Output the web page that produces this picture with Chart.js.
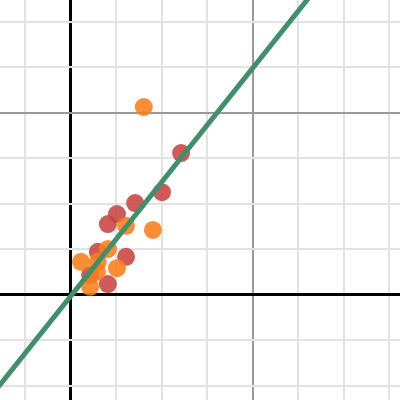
<!DOCTYPE html>
<html>
<head>
<meta charset="utf-8">
<script src="https://cdn.jsdelivr.net/npm/chart.js@4"></script>
<style>
html,body{margin:0;padding:0;background:#fff;}
#wrap{width:400px;height:400px;}
</style>
</head>
<body>
<div id="wrap"><canvas id="c" width="400" height="400"></canvas></div>
<script>
// Data (grid units: one minor cell = 1)
const orangeX = [1.60, 1.80, 1.21, 0.81, 0.22, 0.59, 1.01, 0.57, 0.42];
const orangeY = [4.13, 1.43, 1.52, 1.01, 0.73, 0.73, 0.59, 0.51, 0.18];
const redX = [2.42, 2.00, 1.41, 1.01, 0.81, 0.59, 1.21, 0.42, 0.81];
const redY = [3.12, 2.26, 2.02, 1.78, 1.56, 0.95, 0.84, 0.44, 0.24];
const fitX = [-1.70, 5.40];
const fitY = [-2.15, 6.75];

const xMin = -1.5604, xMax = 7.2308, yMin = -2.3077, yMax = 6.4835;

const pts = (xs, ys) => xs.map((x, i) => ({x, y: ys[i]}));

function gridColor(ctx) {
  const v = ctx.tick ? ctx.tick.value : null;
  if (v === 0) return '#000000';
  if (Math.abs(v % 4) < 1e-9) return '#9a9a9a';
  return '#e2e2e2';
}
function gridWidth(ctx) {
  const v = ctx.tick ? ctx.tick.value : null;
  if (v === 0) return 3;
  return 2;
}
function intTicks(scale) {
  const t = [];
  for (let v = Math.ceil(scale.min); v <= Math.floor(scale.max); v++) t.push({value: v});
  scale.ticks = t;
}

new Chart(document.getElementById('c'), {
  type: 'scatter',
  data: {
    datasets: [
      {
        type: 'line',
        data: pts(fitX, fitY),
        borderColor: '#3f8f6a',
        borderWidth: 5,
        pointRadius: 0,
        fill: false,
        order: 0
      },
      {
        data: pts(orangeX, orangeY),
        backgroundColor: 'rgba(250,126,25,0.88)',
        borderWidth: 0,
        pointRadius: 9,
        pointHoverRadius: 9,
        order: 1
      },
      {
        data: pts(redX, redY),
        backgroundColor: 'rgba(199,68,64,0.88)',
        borderWidth: 0,
        pointRadius: 9,
        pointHoverRadius: 9,
        order: 2
      }
    ]
  },
  options: {
    responsive: false,
    animation: false,
    devicePixelRatio: 1,
    layout: {padding: 0, autoPadding: false},
    plugins: {legend: {display: false}, tooltip: {enabled: false}},
    scales: {
      x: {
        type: 'linear', min: xMin, max: xMax,
        afterBuildTicks: intTicks,
        ticks: {display: false, padding: 0},
        border: {display: false},
        grid: {color: gridColor, lineWidth: gridWidth, drawTicks: false, tickLength: 0, z: -1}
      },
      y: {
        type: 'linear', min: yMin, max: yMax,
        afterBuildTicks: intTicks,
        ticks: {display: false, padding: 0},
        border: {display: false},
        grid: {color: gridColor, lineWidth: gridWidth, drawTicks: false, tickLength: 0, z: -1}
      }
    }
  }
});
</script>
</body>
</html>
